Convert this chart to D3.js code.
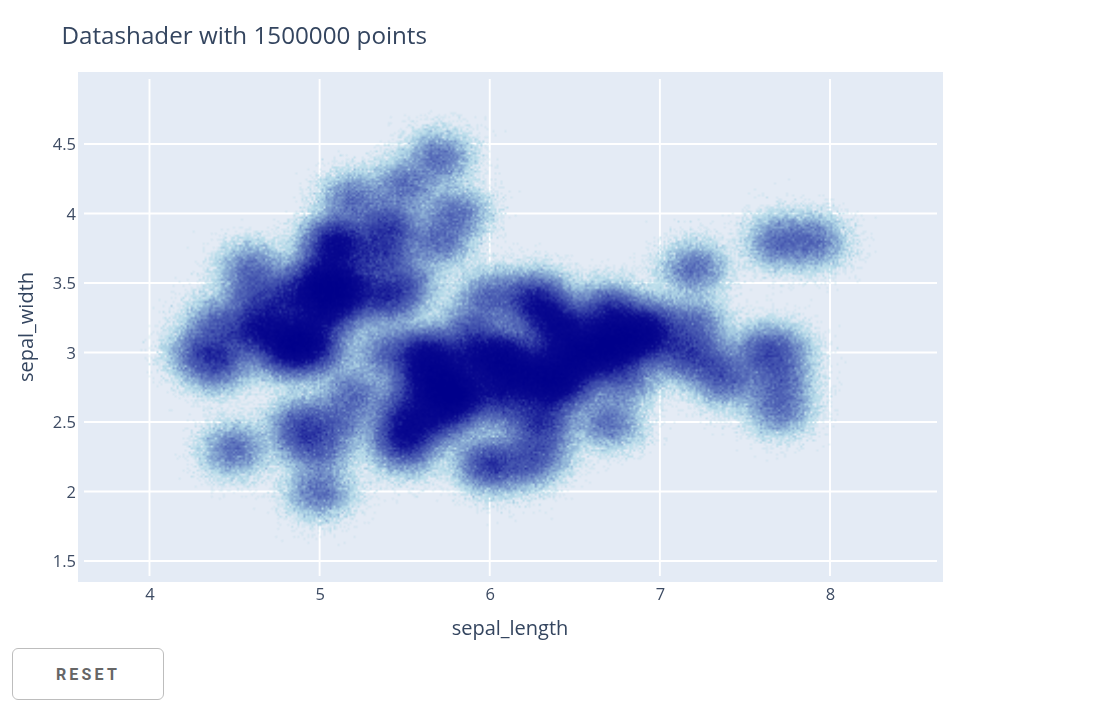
<!DOCTYPE html>
<html>
<head>
<meta charset="utf-8">
<script src="https://cdn.jsdelivr.net/npm/d3@7"></script>
<style>
html,body{margin:0;padding:0;background:#fff;}
#root{position:relative;width:1116px;height:720px;overflow:hidden;filter:blur(0.5px);}
#root svg{position:absolute;left:0;top:0;}
#root canvas{position:absolute;}
#reset{position:absolute;left:12px;top:648px;width:152px;height:52px;box-sizing:border-box;border:1px solid #bdbdbd;border-radius:6px;background:#fff;color:#666;font:700 16px Roboto,sans-serif;letter-spacing:3.2px;display:flex;align-items:center;justify-content:center;padding:0;}
</style>
</head>
<body>
<div id="root"><button id="reset">RESET</button></div>
<script>
const titleText = "Datashader with 1500000 points";
const xLabel = "sepal_length";
const yLabel = "sepal_width";
const xTicks = [4, 5, 6, 7, 8];
const yTicks = [1.5, 2, 2.5, 3, 3.5, 4, 4.5];
const pointsPerSample = 10000;
const sepalLength = [5.1,4.9,4.7,4.6,5.0,5.4,4.6,5.0,4.4,4.9,5.4,4.8,4.8,4.3,5.8,5.7,5.4,5.1,5.7,5.1,5.4,5.1,4.6,5.1,4.8,5.0,5.0,5.2,5.2,4.7,4.8,5.4,5.2,5.5,4.9,5.0,5.5,4.9,4.4,5.1,5.0,4.5,4.4,5.0,5.1,4.8,5.1,4.6,5.3,5.0,
7.0,6.4,6.9,5.5,6.5,5.7,6.3,4.9,6.6,5.2,5.0,5.9,6.0,6.1,5.6,6.7,5.6,5.8,6.2,5.6,5.9,6.1,6.3,6.1,6.4,6.6,6.8,6.7,6.0,5.7,5.5,5.5,5.8,6.0,5.4,6.0,6.7,6.3,5.6,5.5,5.5,6.1,5.8,5.0,5.6,5.7,5.7,6.2,5.1,5.7,
6.3,5.8,7.1,6.3,6.5,7.6,4.9,7.3,6.7,7.2,6.5,6.4,6.8,5.7,5.8,6.4,6.5,7.7,7.7,6.0,6.9,5.6,7.7,6.3,6.7,7.2,6.2,6.1,6.4,7.2,7.4,7.9,6.4,6.3,6.1,7.7,6.3,6.4,6.0,6.9,6.7,6.9,5.8,6.8,6.7,6.7,6.3,6.5,6.2,5.9];
const sepalWidth = [3.5,3.0,3.2,3.1,3.6,3.9,3.4,3.4,2.9,3.1,3.7,3.4,3.0,3.0,4.0,4.4,3.9,3.5,3.8,3.8,3.4,3.7,3.6,3.3,3.4,3.0,3.4,3.5,3.4,3.2,3.1,3.4,4.1,4.2,3.1,3.2,3.5,3.1,3.0,3.4,3.5,2.3,3.2,3.5,3.8,3.0,3.8,3.2,3.7,3.3,
3.2,3.2,3.1,2.3,2.8,2.8,3.3,2.4,2.9,2.7,2.0,3.0,2.2,2.9,2.9,3.1,3.0,2.7,2.2,2.5,3.2,2.8,2.5,2.8,2.9,3.0,2.8,3.0,2.9,2.6,2.4,2.4,2.7,2.7,3.0,3.4,3.1,2.3,3.0,2.5,2.6,3.0,2.6,2.3,2.7,3.0,2.9,2.9,2.5,2.8,
3.3,2.7,3.0,2.9,3.0,3.0,2.5,2.9,2.5,3.6,3.2,2.7,3.0,2.5,2.8,3.2,3.0,3.8,2.6,2.2,3.2,2.8,2.8,2.7,3.3,3.2,2.8,3.0,2.8,3.0,2.8,3.8,2.8,2.8,2.6,3.0,3.4,3.1,3.0,3.1,3.1,3.1,2.7,3.2,3.3,3.0,2.5,3.0,3.4,3.0];

const W = 1116, H = 720;
const plot = {l:78, r:943, t:72, b:582};
const x = d3.scaleLinear().domain([4, 8]).range([149.5, 830]);
const y = d3.scaleLinear().domain([1.5, 4.5]).range([561, 144]);
const font = "'Open Sans', sans-serif";

const root = d3.select("#root");
const svg = root.insert("svg", "#reset").attr("width", W).attr("height", H);

svg.append("rect").attr("x", plot.l).attr("y", plot.t)
  .attr("width", plot.r - plot.l).attr("height", plot.b - plot.t).attr("fill", "#e4ebf5");

const grid = svg.append("g").attr("stroke", "#fff").attr("stroke-width", 1.9);
grid.selectAll(".gx").data(xTicks).join("line").attr("class", "gx")
  .attr("x1", d => x(d)).attr("x2", d => x(d)).attr("y1", plot.t + 7).attr("y2", plot.b - 6);
grid.selectAll(".gy").data(yTicks).join("line").attr("class", "gy")
  .attr("y1", d => y(d)).attr("y2", d => y(d)).attr("x1", plot.l + 6).attr("x2", plot.r - 6);

const xAxis = d3.axisBottom(x).tickValues(xTicks).tickSize(0).tickPadding(0).tickFormat(d3.format("d"));
const yAxis = d3.axisLeft(y).tickValues(yTicks).tickSize(0).tickPadding(0).tickFormat(d => String(d));
const gx = svg.append("g").attr("transform", `translate(0,${plot.b + 6})`).call(xAxis);
const gy = svg.append("g").attr("transform", `translate(${plot.l - 2},0.6)`).call(yAxis);
[gx, gy].forEach(g => {
  g.select(".domain").remove();
  g.selectAll("text").attr("fill", "#3d4b63").attr("font-family", font).attr("font-size", 16.5);
});

svg.append("text").attr("x", 61.5).attr("y", 44).attr("fill", "#34455f")
  .attr("font-family", font).attr("font-size", 24.2).text(titleText);
svg.append("text").attr("x", 510).attr("y", 635).attr("text-anchor", "middle").attr("fill", "#34455f")
  .attr("font-family", font).attr("font-size", 20).text(xLabel);
svg.append("text").attr("transform", "translate(33,327) rotate(-90)").attr("text-anchor", "middle").attr("fill", "#34455f")
  .attr("font-family", font).attr("font-size", 20).text(yLabel);

// Aggregate the samples onto a coarse pixel grid, the way datashader does.
const cols = 430, rows = 254;
const sigma = 0.1;
const col = d3.scaleLinear().domain([plot.l, plot.r]).range([0, cols]);
const row = d3.scaleLinear().domain([plot.t, plot.b]).range([0, rows]);
const dataX = c => x.invert(col.invert(c + 0.5));
const dataY = r => y.invert(row.invert(r + 0.5));
const cellArea = Math.abs(dataX(1) - dataX(0)) * Math.abs(dataY(1) - dataY(0));
const peak = pointsPerSample * cellArea / (2 * Math.PI * sigma * sigma);
const expected = new Float64Array(cols * rows);
sepalLength.forEach((sx, i) => {
  const sy = sepalWidth[i];
  const c0 = Math.max(0, Math.floor(col(x(sx - 0.55)))), c1 = Math.min(cols - 1, Math.ceil(col(x(sx + 0.55))));
  const r0 = Math.max(0, Math.floor(row(y(sy + 0.55)))), r1 = Math.min(rows - 1, Math.ceil(row(y(sy - 0.55))));
  for (let r = r0; r <= r1; r++) {
    const dy = (dataY(r) - sy) / sigma;
    for (let c = c0; c <= c1; c++) {
      const dx = (dataX(c) - sx) / sigma;
      expected[r * cols + c] += peak * Math.exp(-0.5 * (dx * dx + dy * dy));
    }
  }
});

// Fixed texture for the sampling grain: a position hash, no data in it.
function grain(c, r, k) {
  let h = (c * 374761393 + r * 668265263 + k * 2147483647) | 0;
  h = Math.imul(h ^ (h >>> 13), 1274126177);
  h = Math.imul(h ^ (h >>> 16), 2246822519);
  return (((h ^ (h >>> 15)) >>> 0) + 0.5) / 4294967296;
}
const counts = new Float64Array(cols * rows);
for (let r = 0; r < rows; r++) for (let c = 0; c < cols; c++) {
  const m = expected[r * cols + c];
  if (m < 1e-3) continue;
  const u = grain(c, r, 1);
  if (m < 30) {
    let k = 0, p = Math.exp(-m), s = p;
    while (u > s && k < 200) { k++; p *= m / k; s += p; }
    counts[r * cols + c] = k;
  } else {
    const v = grain(c, r, 2);
    counts[r * cols + c] = Math.max(1, Math.round(m + Math.sqrt(m) * Math.sqrt(-2 * Math.log(u)) * Math.cos(2 * Math.PI * v)));
  }
}

// Histogram equalisation of the non-empty cells.
const nonzero = Array.from(counts).filter(v => v > 0).sort(d3.ascending);
const rank = v => d3.bisectLeft(nonzero, v) / nonzero.length;
const colour = d3.scaleLinear().domain([0, 0.15, 0.74, 0.88, 1])
  .range(["lightblue", "lightblue", "#3c4bab", "#0a0a90", "darkblue"]).interpolate(d3.interpolateRgb);
const alpha = d3.scaleLinear().domain([0, 0.12, 0.3]).range([70, 190, 255]).clamp(true);

const canvas = root.insert("canvas", "#reset").attr("width", cols).attr("height", rows)
  .style("left", plot.l + "px").style("top", plot.t + "px")
  .style("width", (plot.r - plot.l) + "px").style("height", (plot.b - plot.t) + "px").node();
const ctx = canvas.getContext("2d");
const img = ctx.createImageData(cols, rows);
for (let i = 0; i < counts.length; i++) {
  if (!counts[i]) continue;
  const t = rank(counts[i]);
  const rgb = d3.rgb(colour(t));
  img.data[4 * i] = rgb.r; img.data[4 * i + 1] = rgb.g; img.data[4 * i + 2] = rgb.b;
  img.data[4 * i + 3] = alpha(t);
}
ctx.putImageData(img, 0, 0);
</script>
</body>
</html>
